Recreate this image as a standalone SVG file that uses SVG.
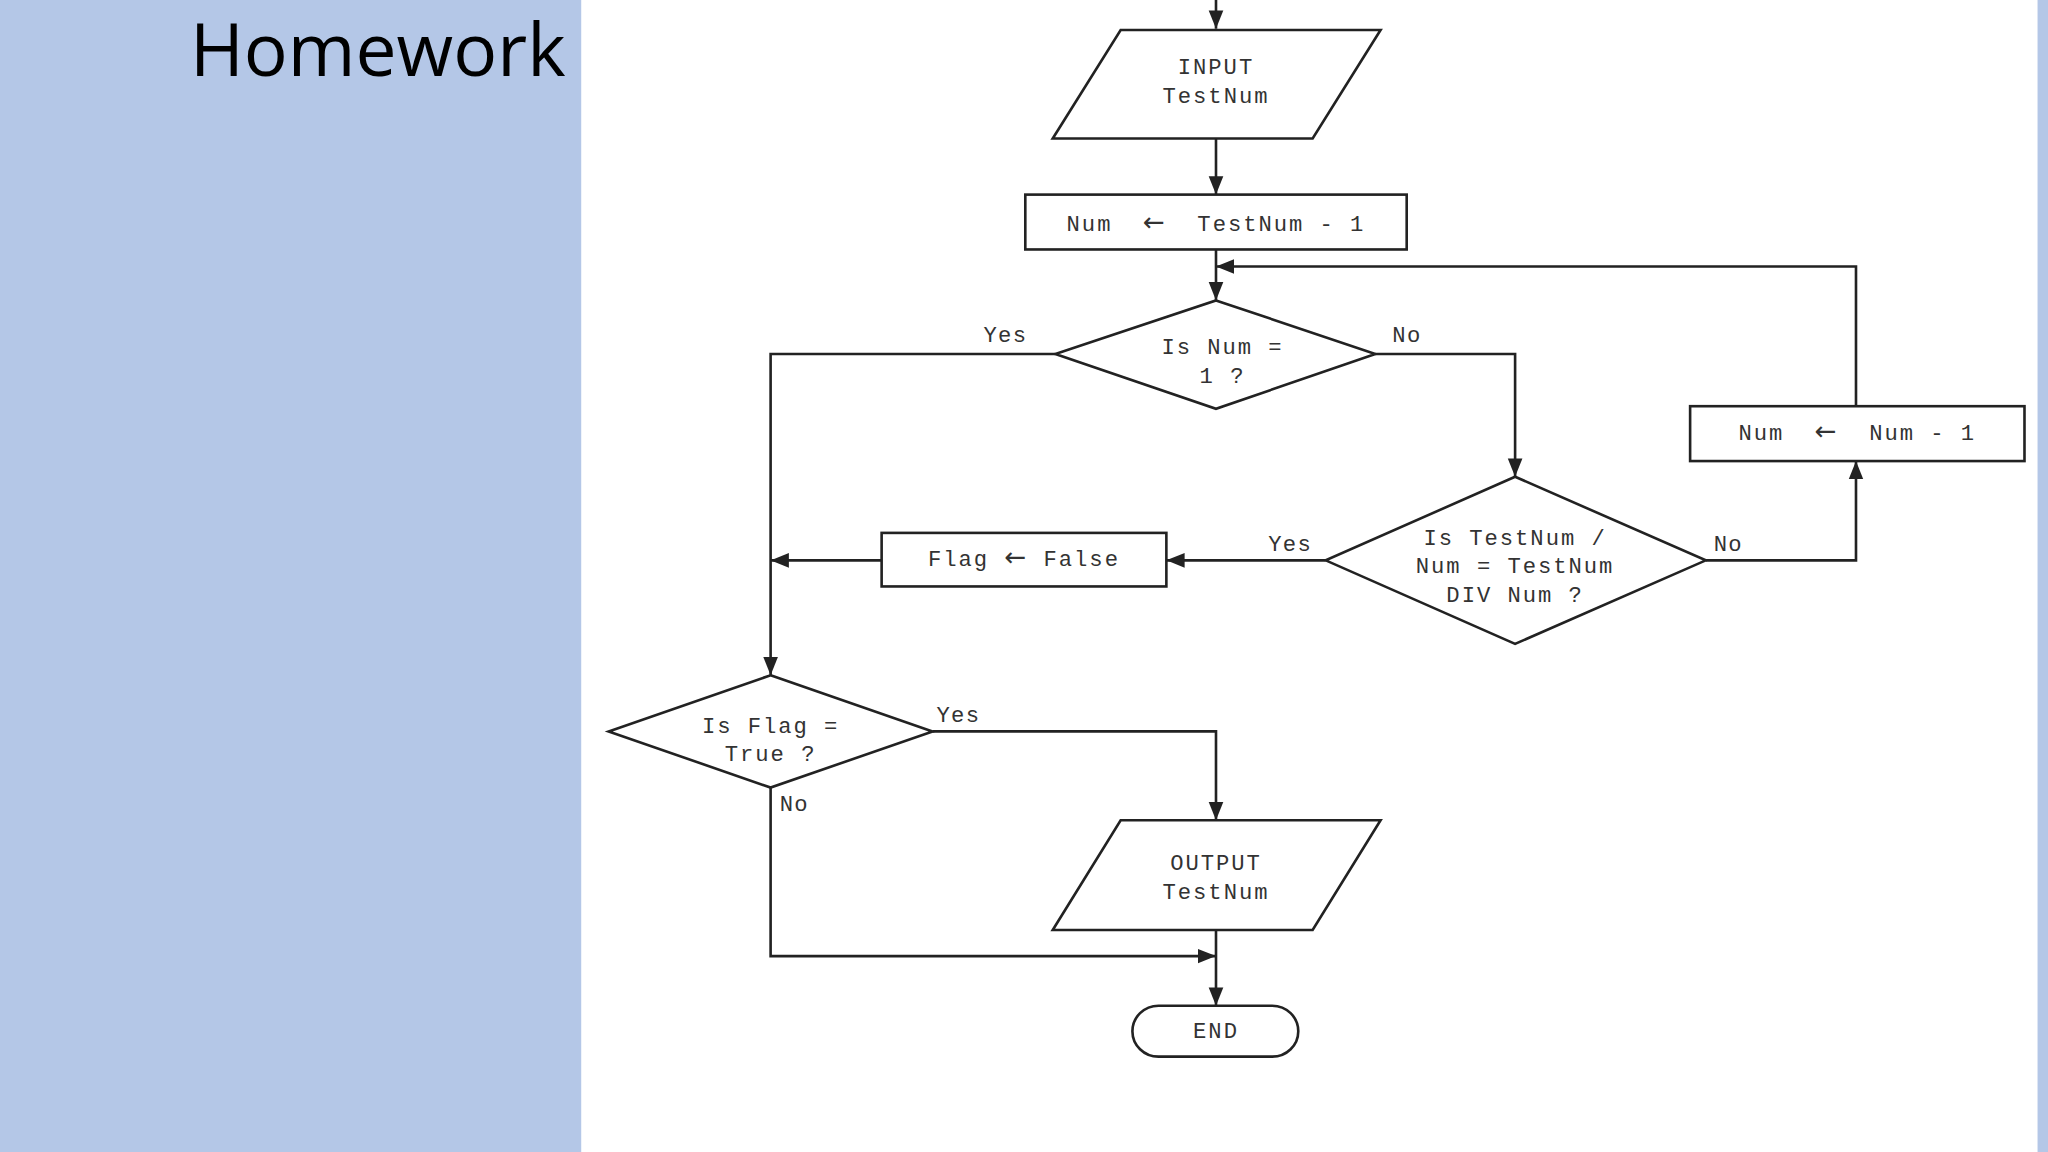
<svg xmlns="http://www.w3.org/2000/svg" width="2048" height="1152" viewBox="0 0 2048 1152">
<defs>
<style>
.s{fill:#fff;stroke:#222;stroke-width:2}
.c{fill:none;stroke:#222;stroke-width:2}
.t{font-family:"Liberation Mono",monospace;font-size:17px;letter-spacing:1.5px;fill:#333;text-anchor:middle}
.l{font-family:"Liberation Mono",monospace;font-size:17px;letter-spacing:1px;fill:#333}
.ar{font-family:"DejaVu Sans",sans-serif;font-size:20px}
</style>
<marker id="a" viewBox="0 0 10 10" refX="10" refY="5" markerWidth="7" markerHeight="7" orient="auto-start-reverse"><path d="M0,1 L10,5 L0,9 z" fill="#222"/></marker>
</defs>
<rect width="2048" height="1152" fill="#fff"/>
<g transform="scale(1.30612)">
<rect x="0" y="0" width="445" height="882" fill="#b4c7e7"/>
<rect x="1560" y="0" width="8" height="882" fill="#b4c7e7"/>
<text x="433" y="58" font-family="Open Sans,sans-serif" font-size="56" text-anchor="end" fill="#000">Homework</text>
<g id="connectors">
<path class="c" d="M931,0 V22" marker-end="url(#a)"/>
<path class="c" d="M931,106 V149" marker-end="url(#a)"/>
<path class="c" d="M931,191 V230" marker-end="url(#a)"/>
<path class="c" d="M808,271 H590 V517" marker-end="url(#a)"/>
<path class="c" d="M1053,271 H1160 V365" marker-end="url(#a)"/>
<path class="c" d="M1015,429 H893" marker-end="url(#a)"/>
<path class="c" d="M675,429 H590" marker-end="url(#a)"/>
<path class="c" d="M1306,429 H1421 V353" marker-end="url(#a)"/>
<path class="c" d="M1421,311 V204 H931" marker-end="url(#a)"/>
<path class="c" d="M714,560 H931 V628" marker-end="url(#a)"/>
<path class="c" d="M590,603 V732 H931" marker-end="url(#a)"/>
<path class="c" d="M931,712 V770" marker-end="url(#a)"/>
<text class="l" x="753" y="262">Yes</text>
<text class="l" x="1066" y="262">No</text>
<text class="l" x="971" y="422">Yes</text>
<text class="l" x="1312" y="422">No</text>
<text class="l" x="717" y="553">Yes</text>
<text class="l" x="597" y="621">No</text>
</g>
<g id="input"><polygon class="s" points="806,106 858,23 1057,23 1005,106"/><text class="t" x="931" y="57">INPUT</text><text class="t" x="931" y="79">TestNum</text></g>
<g id="init"><rect class="s" x="785" y="149" width="292" height="42"/><text class="t" x="931" y="177" xml:space="preserve">Num  <tspan class="ar">←</tspan>  TestNum - 1</text></g>
<g id="d1"><polygon class="s" points="931,230 1053,271 931,313 808,271"/><text class="t" x="936" y="271">Is Num =</text><text class="t" x="936" y="293">1 ?</text></g>
<g id="d2"><polygon class="s" points="1160,365 1306,429 1160,493 1015,429"/><text class="t" x="1160" y="417">Is TestNum /</text><text class="t" x="1160" y="439">Num = TestNum</text><text class="t" x="1160" y="461">DIV Num ?</text></g>
<g id="flag"><rect class="s" x="675" y="408" width="218" height="41"/><text class="t" x="784" y="433">Flag <tspan class="ar">←</tspan> False</text></g>
<g id="dec"><rect class="s" x="1294" y="311" width="256" height="42"/><text class="t" x="1422" y="337" xml:space="preserve">Num  <tspan class="ar">←</tspan>  Num - 1</text></g>
<g id="d3"><polygon class="s" points="590,517 714,560 590,603 466,560"/><text class="t" x="590" y="561">Is Flag =</text><text class="t" x="590" y="583">True ?</text></g>
<g id="output"><polygon class="s" points="806,712 858,628 1057,628 1005,712"/><text class="t" x="931" y="666">OUTPUT</text><text class="t" x="931" y="688">TestNum</text></g>
<g id="end"><rect class="s" x="867" y="770" width="127" height="39" rx="20"/><text class="t" x="931" y="795">END</text></g>
</g>
</svg>
